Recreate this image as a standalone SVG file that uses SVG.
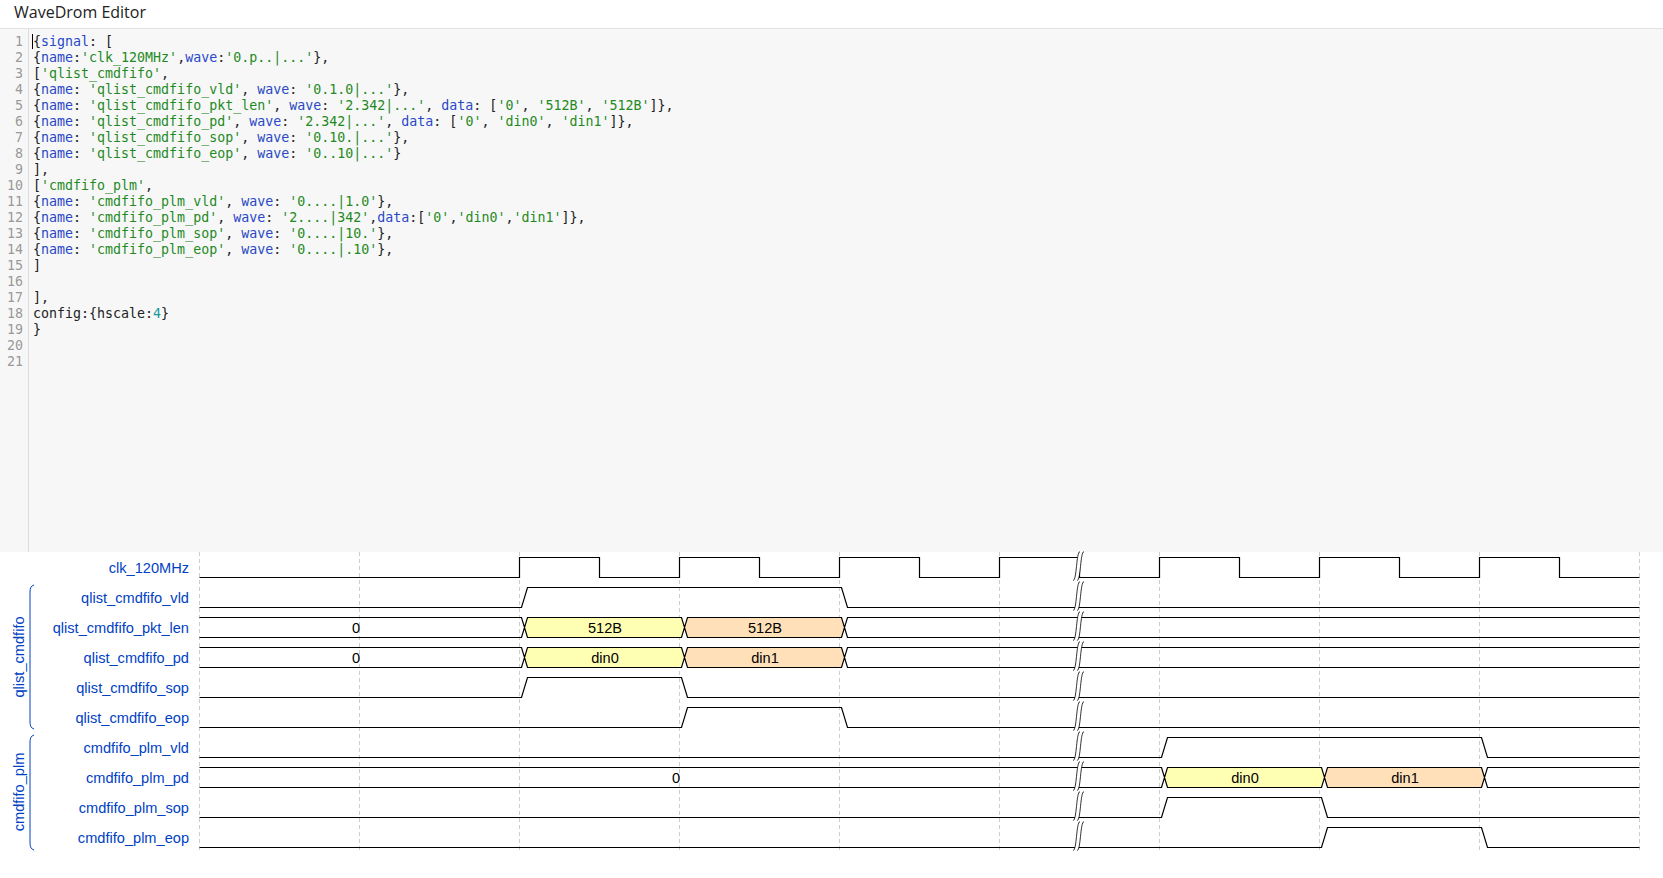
<svg xmlns="http://www.w3.org/2000/svg" width="1663" height="878" viewBox="0 0 1663 878">
<style>
.code{font-family:"DejaVu Sans Mono",monospace;font-size:13.3px;fill:#222;white-space:pre}
.k{fill:#2848c8}.s{fill:#1f8a1f}.n{fill:#1a9a9a}
.ln{font-family:"DejaVu Sans Mono",monospace;font-size:13.3px;fill:#999;text-anchor:end}
.lbl{font-family:"Liberation Sans",Arial,sans-serif;font-size:14.6px;fill:#0041c4;text-anchor:end}
.grp{font-family:"Liberation Sans",Arial,sans-serif;font-size:14.6px;fill:#0041c4;text-anchor:middle}
.dt{font-family:"Liberation Sans",Arial,sans-serif;font-size:14.6px;fill:#000;text-anchor:middle}
.w{fill:none;stroke:#000;stroke-width:1.2}
.grid{stroke:#ccc;stroke-width:1;stroke-dasharray:4 3}
.y{fill:#ffffb4}.o{fill:#ffe0b9}
</style>
<defs>
<g id="brk">
<path d="M-6,26 C-2,26 -3,-2 1,-3 L5,-3 C1,-2 2,26 -2,26 Z" fill="#fff"/>
<path d="M-6,26 C-2,26 -3,-2 1,-3 M-2,26 C2,26 1,-2 5,-3" fill="none" stroke="#000" stroke-width="0.8"/>
</g>
</defs>
<rect width="1663" height="878" fill="#fff"/>
<rect x="0" y="28" width="1663" height="524" fill="#f7f7f7"/>
<line x1="0" y1="28.5" x2="1663" y2="28.5" stroke="#e2e2e2"/>
<line x1="28.5" y1="29" x2="28.5" y2="552" stroke="#ddd"/>
<text x="14" y="18" style="font-family:'Open Sans',sans-serif;font-size:16px;fill:#222">WaveDrom Editor</text>
<g id="editor">
<g class="ln">
<text x="23" y="46">1</text><text x="23" y="62">2</text><text x="23" y="78">3</text><text x="23" y="94">4</text><text x="23" y="110">5</text><text x="23" y="126">6</text><text x="23" y="142">7</text><text x="23" y="158">8</text><text x="23" y="174">9</text><text x="23" y="190">10</text><text x="23" y="206">11</text><text x="23" y="222">12</text><text x="23" y="238">13</text><text x="23" y="254">14</text><text x="23" y="270">15</text><text x="23" y="286">16</text><text x="23" y="302">17</text><text x="23" y="318">18</text><text x="23" y="334">19</text><text x="23" y="350">20</text><text x="23" y="366">21</text>
</g>
<line x1="32.5" y1="34" x2="32.5" y2="49" stroke="#000"/>
<g class="code" xml:space="preserve">
<text x="33" y="46">{<tspan class="k">signal</tspan>: [</text>
<text x="33" y="62">  {<tspan class="k">name</tspan>:<tspan class="s">'clk_120MHz'</tspan>,<tspan class="k">wave</tspan>:<tspan class="s">'0.p..|...'</tspan>},</text>
<text x="33" y="78">  [<tspan class="s">'qlist_cmdfifo'</tspan>,</text>
<text x="33" y="94">    {<tspan class="k">name</tspan>: <tspan class="s">'qlist_cmdfifo_vld'</tspan>, <tspan class="k">wave</tspan>: <tspan class="s">'0.1.0|...'</tspan>},</text>
<text x="33" y="110">    {<tspan class="k">name</tspan>: <tspan class="s">'qlist_cmdfifo_pkt_len'</tspan>, <tspan class="k">wave</tspan>: <tspan class="s">'2.342|...'</tspan>, <tspan class="k">data</tspan>: [<tspan class="s">'0'</tspan>, <tspan class="s">'512B'</tspan>, <tspan class="s">'512B'</tspan>]},</text>
<text x="33" y="126">    {<tspan class="k">name</tspan>: <tspan class="s">'qlist_cmdfifo_pd'</tspan>,  <tspan class="k">wave</tspan>: <tspan class="s">'2.342|...'</tspan>, <tspan class="k">data</tspan>: [<tspan class="s">'0'</tspan>, <tspan class="s">'din0'</tspan>, <tspan class="s">'din1'</tspan>]},</text>
<text x="33" y="142">    {<tspan class="k">name</tspan>: <tspan class="s">'qlist_cmdfifo_sop'</tspan>, <tspan class="k">wave</tspan>: <tspan class="s">'0.10.|...'</tspan>},</text>
<text x="33" y="158">    {<tspan class="k">name</tspan>: <tspan class="s">'qlist_cmdfifo_eop'</tspan>, <tspan class="k">wave</tspan>: <tspan class="s">'0..10|...'</tspan>}</text>
<text x="33" y="174">  ],</text>
<text x="33" y="190">  [<tspan class="s">'cmdfifo_plm'</tspan>,</text>
<text x="33" y="206">    {<tspan class="k">name</tspan>: <tspan class="s">'cmdfifo_plm_vld'</tspan>, <tspan class="k">wave</tspan>: <tspan class="s">'0....|1.0'</tspan>},</text>
<text x="33" y="222">    {<tspan class="k">name</tspan>: <tspan class="s">'cmdfifo_plm_pd'</tspan>,  <tspan class="k">wave</tspan>: <tspan class="s">'2....|342'</tspan>,<tspan class="k">data</tspan>:[<tspan class="s">'0'</tspan>,<tspan class="s">'din0'</tspan>,<tspan class="s">'din1'</tspan>]},</text>
<text x="33" y="238">    {<tspan class="k">name</tspan>: <tspan class="s">'cmdfifo_plm_sop'</tspan>, <tspan class="k">wave</tspan>: <tspan class="s">'0....|10.'</tspan>},</text>
<text x="33" y="254">    {<tspan class="k">name</tspan>: <tspan class="s">'cmdfifo_plm_eop'</tspan>, <tspan class="k">wave</tspan>: <tspan class="s">'0....|.10'</tspan>},</text>
<text x="33" y="270">  ]</text>
<text x="33" y="302">],</text>
<text x="33" y="318">  config:{hscale:<tspan class="n">4</tspan>}</text>
<text x="33" y="334">  }</text>
</g>
</g>
<g id="grid" class="grid">
<line x1="199.5" y1="552" x2="199.5" y2="852"/><line x1="359.5" y1="552" x2="359.5" y2="852"/><line x1="519.5" y1="552" x2="519.5" y2="852"/><line x1="679.5" y1="552" x2="679.5" y2="852"/><line x1="839.5" y1="552" x2="839.5" y2="852"/><line x1="999.5" y1="552" x2="999.5" y2="852"/><line x1="1159.5" y1="552" x2="1159.5" y2="852"/><line x1="1319.5" y1="552" x2="1319.5" y2="852"/><line x1="1479.5" y1="552" x2="1479.5" y2="852"/><line x1="1639.5" y1="552" x2="1639.5" y2="852"/>
</g>
<g id="labels" class="lbl">
<text x="189" y="572.5">clk_120MHz</text>
<text x="189" y="602.5">qlist_cmdfifo_vld</text>
<text x="189" y="632.5">qlist_cmdfifo_pkt_len</text>
<text x="189" y="662.5">qlist_cmdfifo_pd</text>
<text x="189" y="692.5">qlist_cmdfifo_sop</text>
<text x="189" y="722.5">qlist_cmdfifo_eop</text>
<text x="189" y="752.5">cmdfifo_plm_vld</text>
<text x="189" y="782.5">cmdfifo_plm_pd</text>
<text x="189" y="812.5">cmdfifo_plm_sop</text>
<text x="189" y="842.5">cmdfifo_plm_eop</text>
</g>
<g id="groups">
<path d="M34,585 Q30,586 30,592 V722 Q30,728 34,729" fill="none" stroke="#0041c4" stroke-width="1"/>
<text class="grp" transform="translate(24,657) rotate(-90)">qlist_cmdfifo</text>
<path d="M34,735 Q30,736 30,742 V843 Q30,849 34,850" fill="none" stroke="#0041c4" stroke-width="1"/>
<text class="grp" transform="translate(24,792) rotate(-90)">cmdfifo_plm</text>
</g>
<g id="fills">
<polygon class="y" points="524.5,627.5 527.5,617.5 681.5,617.5 684.5,627.5 681.5,637.5 527.5,637.5"/>
<polygon class="o" points="684.5,627.5 687.5,617.5 841.5,617.5 844.5,627.5 841.5,637.5 687.5,637.5"/>
<polygon class="y" points="524.5,657.5 527.5,647.5 681.5,647.5 684.5,657.5 681.5,667.5 527.5,667.5"/>
<polygon class="o" points="684.5,657.5 687.5,647.5 841.5,647.5 844.5,657.5 841.5,667.5 687.5,667.5"/>
<polygon class="y" points="1164.5,777.5 1167.5,767.5 1321.5,767.5 1324.5,777.5 1321.5,787.5 1167.5,787.5"/>
<polygon class="o" points="1324.5,777.5 1327.5,767.5 1481.5,767.5 1484.5,777.5 1481.5,787.5 1327.5,787.5"/>
</g>
<g id="waves" class="w">
<path id="w0" d="M199.5,577.5 H519.5 V557.5 H599.5 V577.5 H679.5 V557.5 H759.5 V577.5 H839.5 V557.5 H919.5 V577.5 H999.5 V557.5 H1079.5 V577.5 H1159.5 V557.5 H1239.5 V577.5 H1319.5 V557.5 H1399.5 V577.5 H1479.5 V557.5 H1559.5 V577.5 H1639.5"/>
<path id="w1" d="M199.5,607.5 H521.5 L527.5,587.5 H841.5 L847.5,607.5 H1639.5"/>
<path id="w2" d="M199.5,617.5 H521.5 L527.5,637.5 H681.5 L687.5,617.5 H841.5 L847.5,637.5 H1639.5 M199.5,637.5 H521.5 L527.5,617.5 H681.5 L687.5,637.5 H841.5 L847.5,617.5 H1639.5"/>
<path id="w3" d="M199.5,647.5 H521.5 L527.5,667.5 H681.5 L687.5,647.5 H841.5 L847.5,667.5 H1639.5 M199.5,667.5 H521.5 L527.5,647.5 H681.5 L687.5,667.5 H841.5 L847.5,647.5 H1639.5"/>
<path id="w4" d="M199.5,697.5 H521.5 L527.5,677.5 H681.5 L687.5,697.5 H1639.5"/>
<path id="w5" d="M199.5,727.5 H681.5 L687.5,707.5 H841.5 L847.5,727.5 H1639.5"/>
<path id="w6" d="M199.5,757.5 H1161.5 L1167.5,737.5 H1481.5 L1487.5,757.5 H1639.5"/>
<path id="w7" d="M199.5,767.5 H1161.5 L1167.5,787.5 H1321.5 L1327.5,767.5 H1481.5 L1487.5,787.5 H1639.5 M199.5,787.5 H1161.5 L1167.5,767.5 H1321.5 L1327.5,787.5 H1481.5 L1487.5,767.5 H1639.5"/>
<path id="w8" d="M199.5,817.5 H1161.5 L1167.5,797.5 H1321.5 L1327.5,817.5 H1639.5"/>
<path id="w9" d="M199.5,847.5 H1321.5 L1327.5,827.5 H1481.5 L1487.5,847.5 H1639.5"/>
</g>
<g id="breaks">
<use href="#brk" x="1079" y="554.5"/><use href="#brk" x="1079" y="584.5"/><use href="#brk" x="1079" y="614.5"/><use href="#brk" x="1079" y="644.5"/><use href="#brk" x="1079" y="674.5"/><use href="#brk" x="1079" y="704.5"/><use href="#brk" x="1079" y="734.5"/><use href="#brk" x="1079" y="764.5"/><use href="#brk" x="1079" y="794.5"/><use href="#brk" x="1079" y="824.5"/>
</g>
<g id="data" class="dt">
<text x="356" y="632.5">0</text><text x="605" y="632.5">512B</text><text x="765" y="632.5">512B</text>
<text x="356" y="662.5">0</text><text x="605" y="662.5">din0</text><text x="765" y="662.5">din1</text>
<text x="676" y="782.5">0</text><text x="1245" y="782.5">din0</text><text x="1405" y="782.5">din1</text>
</g>
</svg>
